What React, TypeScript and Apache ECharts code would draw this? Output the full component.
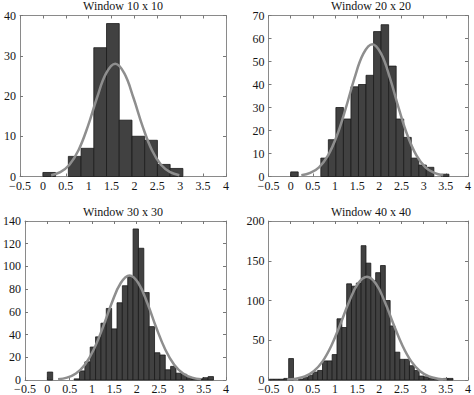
import React, { useEffect, useRef } from "react";
import * as echarts from "echarts";

// ---- data ----
const titles = ["Window 10 x 10", "Window 20 x 20", "Window 30 x 30", "Window 40 x 40"];
const xMin = -0.5;
const xMax = 4;
const xStep = 0.5;
const yMaxs = [40, 70, 140, 200];
const ySteps = [10, 10, 20, 50];

// histogram bins: first bin start, bin width, counts
const w10Start = 0;
const w10Width = 0.278;
const w10Counts = [1, 0, 5, 7, 32, 38, 14, 10, 9, 3, 2];

const w20Start = 0;
const w20Width = 0.17;
const w20Counts = [2, 0, 0, 0, 8, 16, 30, 25, 39, 40, 44, 63, 66, 48, 25, 17, 8, 5, 4, 0, 1];

const w30Start = 0;
const w30Width = 0.12;
const w30Counts = [7, 0, 0, 0, 0, 1, 8, 16, 29, 38, 50, 63, 45, 68, 83, 91, 133, 116, 77, 47, 24, 22, 9, 12, 6, 5, 2, 1, 1, 2, 3];

const w40Start = -0.481;
const w40Width = 0.109;
const w40Counts = [1, 1, 1, 2, 27, 0, 1, 3, 6, 10, 12, 24, 24, 32, 77, 66, 121, 118, 122, 169, 147, 125, 135, 144, 100, 68, 35, 26, 26, 18, 12, 5, 4, 2, 1, 0, 2, 2];

// fitted curves
const w10Fit = [[0.18, 0.33], [0.38, 1.08], [0.58, 2.91], [0.78, 6.58], [0.98, 12.4], [1.18, 19.5], [1.38, 25.6], [1.58, 28], [1.78, 25.6], [1.98, 19.5], [2.18, 12.4], [2.38, 6.58], [2.58, 2.91], [2.78, 1.08], [2.98, 0.33]];
const w20Fit = [[0.24, 0.51], [0.44, 1.53], [0.64, 4.01], [0.84, 9.05], [1.04, 17.6], [1.24, 29.5], [1.44, 42.8], [1.64, 53.4], [1.84, 57.5], [2.04, 53.4], [2.24, 42.8], [2.44, 29.5], [2.64, 17.6], [2.84, 9.05], [3.04, 4.01], [3.24, 1.53], [3.44, 0.51]];
const w30Fit = [[0.24, 0.67], [0.44, 2.12], [0.64, 5.78], [0.84, 13.5], [1.04, 26.9], [1.24, 46.0], [1.44, 67.6], [1.64, 85.2], [1.84, 92], [2.04, 85.2], [2.24, 67.6], [2.44, 46.0], [2.64, 26.9], [2.84, 13.5], [3.04, 5.78], [3.24, 2.12], [3.44, 0.67]];
const w40Fit = [[-0.08, 0.5], [0.12, 1.61], [0.32, 4.51], [0.52, 11.0], [0.72, 23.4], [0.92, 43.4], [1.12, 70.1], [1.32, 98.8], [1.52, 121.4], [1.72, 130], [1.92, 121.4], [2.12, 98.8], [2.32, 70.1], [2.52, 43.4], [2.72, 23.4], [2.92, 11.0], [3.12, 4.51], [3.32, 1.61], [3.52, 0.5]];

const histStarts = [w10Start, w20Start, w30Start, w40Start];
const histWidths = [w10Width, w20Width, w30Width, w40Width];
const histCounts = [w10Counts, w20Counts, w30Counts, w40Counts];
const fits = [w10Fit, w20Fit, w30Fit, w40Fit];

// ---- layout / style ----
const FONT = "Liberation Serif";
const TEXT = "#151515";
const FRAME = "#8a8a8a";
const grids = [
  { left: 20, top: 15.5, width: 206, height: 161 },
  { left: 268.5, top: 15.5, width: 205, height: 161 },
  { left: 20, top: 221, width: 206, height: 160.3 },
  { left: 268.5, top: 221, width: 205, height: 160 },
];

const fmtX = (v: number) => (v < 0 ? "\u2212" + Math.abs(v) : String(v));

export default function App() {
  const ref = useRef<HTMLDivElement>(null);
  useEffect(() => {
    document.body.style.margin = "0";
    if (!ref.current) return;
    const chart = echarts.init(ref.current, undefined, { renderer: "svg" });

    const tick = { inside: true, length: 3, lineStyle: { color: "#777", width: 1 } };
    const line = { show: true, onZero: false, lineStyle: { color: FRAME, width: 1 } };
    const xAxis: any[] = [];
    const yAxis: any[] = [];
    grids.forEach((_, p) => {
      xAxis.push({
        type: "value", gridIndex: p, min: xMin, max: xMax, interval: xStep, position: "bottom",
        axisLine: line, axisTick: tick, splitLine: { show: false },
        axisLabel: { margin: 3, fontFamily: FONT, fontSize: 12, color: TEXT, formatter: fmtX, showMinLabel: true, showMaxLabel: true },
      });
      xAxis.push({
        type: "value", gridIndex: p, min: xMin, max: xMax, interval: xStep, position: "top",
        axisLine: line, axisTick: tick, splitLine: { show: false }, axisLabel: { show: false },
      });
      yAxis.push({
        type: "value", gridIndex: p, min: 0, max: yMaxs[p], interval: ySteps[p], position: "left",
        axisLine: line, axisTick: tick, splitLine: { show: false },
        axisLabel: { margin: 4, fontFamily: FONT, fontSize: 12, color: TEXT },
      });
      yAxis.push({
        type: "value", gridIndex: p, min: 0, max: yMaxs[p], interval: ySteps[p], position: "right",
        axisLine: line, axisTick: tick, splitLine: { show: false }, axisLabel: { show: false },
      });
    });

    const series: any[] = [];
    grids.forEach((_, p) => {
      const bins = histCounts[p]
        .map((c, i) => [histStarts[p] + i * histWidths[p], histStarts[p] + (i + 1) * histWidths[p], c])
        .filter((d) => d[2] > 0);
      series.push({
        type: "custom",
        xAxisIndex: 2 * p,
        yAxisIndex: 2 * p,
        data: bins,
        encode: { x: [0, 1], y: 2 },
        z: 2,
        renderItem: (params: any, api: any) => {
          const p0 = api.coord([api.value(0), 0]);
          const p1 = api.coord([api.value(1), api.value(2)]);
          return {
            type: "rect",
            shape: { x: p0[0], y: p1[1], width: p1[0] - p0[0], height: p0[1] - p1[1] },
            style: { fill: "#414141", stroke: "#1a1a1a", lineWidth: 0.8 },
          };
        },
      });
      series.push({
        type: "line",
        xAxisIndex: 2 * p,
        yAxisIndex: 2 * p,
        data: fits[p],
        smooth: 0.4,
        showSymbol: false,
        symbol: "none",
        z: 3,
        lineStyle: { color: "#8e8e8e", width: 2.5 },
      });
    });

    const titlePos = [
      [123, 6], [371, 6], [123, 212], [371, 212],
    ];

    chart.setOption({
      animation: false,
      grid: grids.map((g) => ({ ...g })),
      xAxis,
      yAxis,
      series,
      graphic: titles.map((t, i) => ({
        type: "text",
        x: titlePos[i][0],
        y: titlePos[i][1],
        style: {
          text: t,
          fill: TEXT,
          font: `12px "${FONT}"`,
          textAlign: "center",
          textVerticalAlign: "middle",
        },
      })),
    });
    return () => chart.dispose();
  }, []);
  return (
    <div
      ref={ref}
      style={{ position: "fixed", left: 0, top: 0, width: 474, height: 395, background: "#fff" }}
    />
  );
}
